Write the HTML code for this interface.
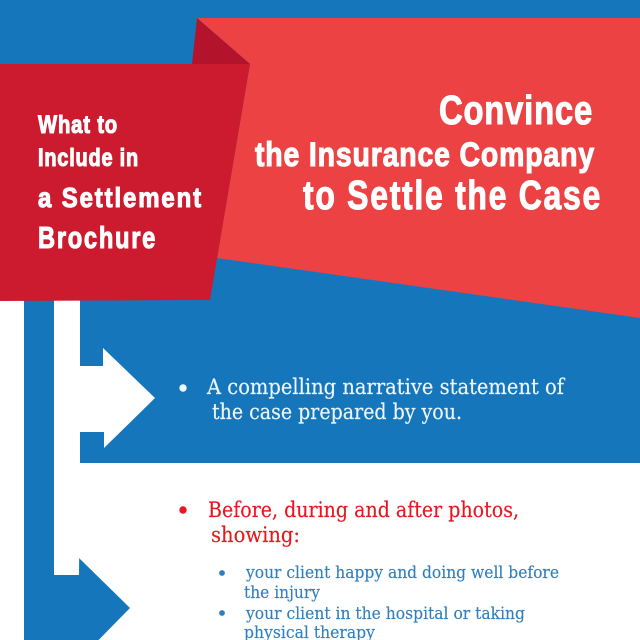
<!DOCTYPE html>
<html>
<head>
<meta charset="utf-8">
<style>
html,body{margin:0;padding:0;background:#fff;width:640px;height:640px;overflow:hidden}
svg{display:block}
.h{font-family:"Liberation Sans",sans-serif;font-weight:700;fill:#fff;stroke:#fff;stroke-width:1.1px;letter-spacing:1px}
.w{letter-spacing:2.2px}
.b{font-family:"DejaVu Serif",serif;stroke-width:.15px}
.t{filter:blur(.35px)}
</style>
</head>
<body>
<svg width="640" height="640" viewBox="0 0 640 640" xmlns="http://www.w3.org/2000/svg">
<rect width="640" height="640" fill="#fff"/>
<rect x="0" y="0" width="640" height="300" fill="#1676bc"/>
<rect x="80" y="300" width="560" height="163" fill="#1676bc"/>
<rect x="0" y="300" width="24" height="20" fill="#fff"/>
<rect x="24" y="300" width="30" height="340" fill="#1676bc"/>
<polygon points="54,575 79,575 79,558 130,608 79,660 54,660" fill="#1676bc"/>
<polygon points="54,300 80,300 80,366 103,366 103,348 155,398 104,448 104,432 80,432 80,463 79,575 54,575" fill="#fff"/>
<polygon points="197,18 640,18 640,318 217,258 250,64" fill="#ed4243"/>
<polygon points="197,18 250,64 192,64" fill="#b3142b"/>
<polygon points="0,64 250,64 210,300 0,301" fill="#cc1a2f"/>

<g class="t">
<text class="h" x="38" y="133" font-size="25" textLength="80" lengthAdjust="spacingAndGlyphs">What to</text>
<text class="h" x="38" y="166" font-size="25" textLength="101" lengthAdjust="spacingAndGlyphs">Include in</text>
<text class="h w" x="38" y="207" font-size="28" textLength="165" lengthAdjust="spacingAndGlyphs">a Settlement</text>
<text class="h w" x="38" y="248" font-size="31" textLength="119" lengthAdjust="spacingAndGlyphs">Brochure</text>

<text class="h" x="439" y="124" font-size="41" textLength="154" lengthAdjust="spacingAndGlyphs">Convince</text>
<text class="h" x="255" y="166" font-size="34" textLength="340" lengthAdjust="spacingAndGlyphs">the Insurance Company</text>
<text class="h w" x="303" y="209" font-size="41" textLength="299" lengthAdjust="spacingAndGlyphs">to Settle the Case</text>

<g fill="#eef6fb" stroke="#eef6fb">
<circle cx="183" cy="388" r="3.2"/>
<text class="b" x="207" y="394" font-size="21" textLength="357" lengthAdjust="spacingAndGlyphs">A compelling narrative statement of</text>
<text class="b" x="212" y="419" font-size="21" textLength="250" lengthAdjust="spacingAndGlyphs">the case prepared by you.</text>
</g>
<g fill="#e8171f" stroke="#e8171f">
<circle cx="183" cy="510" r="3.2"/>
<text class="b" x="208" y="517" font-size="21" textLength="311" lengthAdjust="spacingAndGlyphs">Before, during and after photos,</text>
<text class="b" x="211" y="542" font-size="21" textLength="89" lengthAdjust="spacingAndGlyphs">showing:</text>
</g>
<g fill="#2f7fbf" stroke="#2f7fbf">
<circle cx="222" cy="573" r="2.4"/>
<circle cx="222" cy="613" r="2.4"/>
<text class="b" x="246" y="578" font-size="17" textLength="313" lengthAdjust="spacingAndGlyphs">your client happy and doing well before</text>
<text class="b" x="244" y="598" font-size="17" textLength="76" lengthAdjust="spacingAndGlyphs">the injury</text>
<text class="b" x="246" y="619" font-size="17" textLength="279" lengthAdjust="spacingAndGlyphs">your client in the hospital or taking</text>
<text class="b" x="244" y="638" font-size="17" textLength="131" lengthAdjust="spacingAndGlyphs">physical therapy</text>
</g>
</g>
</svg>
</body>
</html>
